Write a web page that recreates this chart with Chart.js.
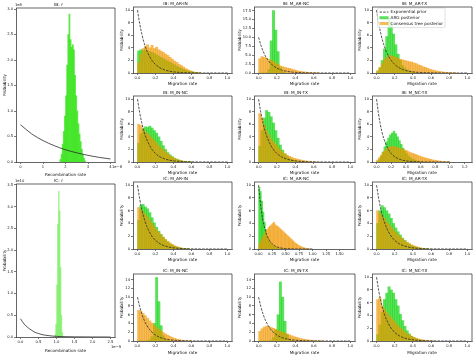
<!DOCTYPE html>
<html><head><meta charset="utf-8">
<script src="https://cdn.jsdelivr.net/npm/chart.js@4.4.0/dist/chart.umd.min.js"></script>
<style>
html,body{margin:0;padding:0;background:#fff;}
body{width:474px;height:355px;overflow:hidden;position:relative;}
canvas{position:absolute;}
</style></head>
<body>
<script>
// ---------------- DATA ----------------
const migBins = [0.0125,0.0375,0.0625,0.0875,0.1125,0.1375,0.1625,0.1875,0.2125,0.2375,0.2625,0.2875,0.3125,0.3375,0.3625,0.3875,0.4125,0.4375,0.4625,0.4875,0.5125,0.5375,0.5625,0.5875,0.6125,0.6375,0.6625,0.6875,0.7125,0.7375,0.7625,0.7875,0.8125,0.8375,0.8625,0.8875,0.9125,0.9375,0.9625,0.9875];
const migPriorX = [0,0.025,0.05,0.075,0.1,0.15,0.2,0.25,0.3,0.35,0.4,0.5,0.6,0.7,0.8,0.9,1.0];
const migPriorY = [10,7.8,6.07,4.72,3.68,2.23,1.35,0.82,0.5,0.3,0.18,0.067,0.025,0.009,0.003,0.001,0.0005];

const ibRecombBins = [1.775,1.825,1.875,1.925,1.975,2.025,2.075,2.125,2.175,2.225,2.275,2.325,2.375,2.425,2.475,2.525,2.575,2.625,2.675,2.725,2.775,2.825,2.875];
const ibRecombArg = [0.05,0.15,0.35,0.6,0.9,1.3,1.9,2.5,2.9,2.4,2.25,2.3,2.2,1.7,1.3,1.0,0.75,0.55,0.4,0.25,0.15,0.07,0.02];
const ibRecombPriorX = [0,0.5,1,1.5,2,2.5,3,3.5,4];
const ibRecombPriorY = [0.73,0.55,0.42,0.32,0.24,0.18,0.13,0.09,0.06];

const icRecombBins = [0.9625,0.9875,1.0125,1.0375,1.0625,1.0875,1.1125,1.1375,1.1625];
const icRecombArg = [0.05,0.3,1.2,2.6,3.35,2.9,1.6,0.5,0.1];
const icRecombPriorX = [0,0.1,0.2,0.3,0.4,0.5,0.6,0.7,0.8,0.9,1.0,1.1,1.5,2.0,2.5];
const icRecombPriorY = [0.42,0.3,0.22,0.16,0.11,0.08,0.055,0.04,0.03,0.02,0.015,0.01,0.004,0.001,0];

const ibArInArg  = [3.5,3.7,3.6,3.7,3.5,3.4,3.3,3.1,2.9,2.7,2.5,2.3,2.1,1.9,1.7,1.5,1.3,1.1,0.9,0.75,0.6,0.45,0.35,0.25,0.17,0.1,0.06,0.03];
const ibArInCons = [1.6,3.0,3.9,4.2,4.5,4.0,4.4,3.9,4.1,3.7,3.5,3.3,3.0,2.8,2.5,2.2,1.9,1.7,1.4,1.2,0.95,0.7,0.5,0.35,0.22,0.13,0.07,0.03];
const ibArNcArg  = [0,0,0,0.1,1.0,9.0,17.5,12.0,6.0,1.5,0.4,0.1];
const ibArNcCons = [4.0,4.6,4.4,4.2,3.8,3.5,3.2,2.8,2.4,2.0,1.8,1.6,1.4,1.3,1.1,0.9,0.7,0.55,0.45,0.35,0.25,0.18,0.12,0.08,0.05,0.03];
const ibArTxArg  = [0.2,0.8,2.0,3.8,5.8,8.7,7.6,6.2,4.5,3.0,2.0,1.2,0.8,0.5,0.3,0.2,0.1,0.05];
const ibArTxCons = [0.4,0.9,1.5,2.1,2.5,2.8,2.7,2.6,2.5,2.3,2.2,2.1,2.0,1.9,1.8,1.75,1.6,1.5,1.3,1.2,1.0,0.9,0.75,0.6,0.5,0.4,0.33,0.27,0.2,0.15,0.12,0.09,0.06,0.04,0.02];
const ibInNcArg  = [3.0,4.5,5.3,5.6,5.5,5.7,5.4,5.0,4.6,4.0,3.3,2.6,2.0,1.5,1.15,0.85,0.62,0.45,0.3,0.2,0.12,0.06,0.03,0.01];
const ibInNcCons = [6.0,5.8,5.2,4.8,4.5,4.2,3.8,3.4,3.0,2.6,2.2,1.9,1.6,1.3,1.0,0.8,0.6,0.45,0.3,0.2,0.12,0.07,0.03,0.01];
const ibInTxArg  = [2.5,5.0,7.0,8.2,7.9,7.2,6.2,5.0,3.8,2.7,1.9,1.3,0.9,0.6,0.4,0.25,0.15,0.08,0.04,0.02];
const ibInTxCons = [7.7,7.0,5.8,5.0,4.3,3.7,3.2,2.8,2.3,1.9,1.6,1.3,1.1,0.9,0.75,0.6,0.5,0.4,0.32,0.25,0.18,0.12,0.08,0.05,0.03];
const ibNcTxArg  = [0.1,0.4,0.9,1.6,2.4,3.2,3.8,4.3,4.6,4.9,4.5,4.0,3.4,2.8,2.2,1.7,1.3,0.95,0.7,0.5,0.35,0.25,0.15,0.1,0.05];
const ibNcTxCons = [0.3,0.7,1.1,1.5,1.8,2.1,2.3,2.4,2.5,2.4,2.4,2.3,2.2,2.1,2.0,1.9,1.8,1.65,1.5,1.4,1.3,1.2,1.05,0.95,0.85,0.75,0.65,0.57,0.5,0.42,0.35,0.29,0.23,0.18,0.14,0.11,0.08,0.06,0.04,0.03];
const icArInArg  = [4.5,6.8,7.0,6.6,6.3,5.7,4.9,4.1,3.4,2.8,2.3,1.85,1.45,1.1,0.82,0.6,0.43,0.3,0.2,0.12,0.06,0.03,0.01];
const icArInCons = [6.5,6.2,5.8,5.4,5.0,4.5,4.0,3.5,3.0,2.6,2.2,1.85,1.5,1.2,0.95,0.72,0.52,0.37,0.26,0.17,0.1,0.05,0.02];
const icArNcArg  = [9.7,9.0,7.5,5.8,4.2,3.0,2.1,1.5,1.1,0.8,0.6,0.45,0.35,0.25,0.18,0.12,0.08,0.05,0.03,0.02];
const icArNcCons = [0.8,1.2,1.6,2.0,2.4,2.8,3.1,3.4,3.6,3.8,4.0,4.2,3.8,3.6,3.5,3.3,3.1,2.9,2.7,2.5,2.3,2.1,1.9,1.7,1.5,1.3,1.1,0.9,0.75,0.6,0.48,0.38,0.28,0.2,0.14,0.09,0.05,0.03];
const icArTxArg  = [4.0,6.0,6.8,6.5,6.0,5.5,4.8,4.0,3.3,2.7,2.2,1.7,1.35,1.0,0.75,0.55,0.4,0.28,0.18,0.11,0.06,0.03,0.01];
const icArTxCons = [6.0,5.6,5.2,4.8,4.3,3.9,3.4,3.0,2.6,2.2,1.9,1.6,1.3,1.05,0.85,0.65,0.5,0.37,0.27,0.18,0.11,0.06,0.03];
const icInNcArg  = [0,0,0,0,0.1,0.3,1.0,4.0,14.5,9.0,3.5,1.2,0.4,0.15,0.05];
const icInNcCons = [7.0,6.8,6.3,5.8,5.2,4.6,4.1,3.6,3.1,2.7,2.3,1.95,1.6,1.3,1.05,0.8,0.6,0.45,0.32,0.22,0.14,0.08,0.04,0.02];
const icInTxArg  = [0,0,0,0,0,0.2,0.8,2.5,6.0,13.5,10.0,4.5,1.5,0.5,0.15,0.05];
const icInTxCons = [2.2,2.8,3.2,3.4,3.3,3.1,2.9,2.7,2.4,2.2,2.0,1.8,1.6,1.4,1.2,1.0,0.85,0.7,0.55,0.45,0.35,0.27,0.2,0.14,0.1,0.06,0.04,0.02];
const icNcTxArg  = [1.0,2.5,4.5,6.5,7.5,8.5,8.0,7.5,6.5,5.5,4.2,3.2,2.3,1.6,1.1,0.75,0.5,0.3,0.18,0.1,0.05];
const icNcTxCons = [6.5,6.8,5.5,5.0,4.5,4.0,3.6,3.2,2.8,2.4,2.0,1.7,1.4,1.15,0.95,0.75,0.58,0.44,0.33,0.24,0.17,0.12,0.08,0.05,0.03];

// tick values and labels
const migXTicks = [0,0.2,0.4,0.6,0.8,1.0];
const migXLabels = ['0.0','0.2','0.4','0.6','0.8','1.0'];
const ncTxXTicks = [0,0.2,0.4,0.6,0.8,1.0,1.2];
const ncTxXLabels = ['0.0','0.2','0.4','0.6','0.8','1.0','1.2'];
const arNcXTicks = [0,0.25,0.5,0.75,1.0,1.25,1.5];
const arNcXLabels = ['0.00','0.25','0.50','0.75','1.00','1.25','1.50'];
const y10Ticks = [0,2,4,6,8,10];
const y10Labels = ['0','2','4','6','8','10'];
const y17Ticks = [0,2.5,5,7.5,10,12.5,15,17.5];
const y17Labels = ['0.0','2.5','5.0','7.5','10.0','12.5','15.0','17.5'];
const y14Ticks = [0,2,4,6,8,10,12,14];
const y14Labels = ['0','2','4','6','8','10','12','14'];
const ibRXTicks = [0,1,2,3,4];
const ibRXLabels = ['0','1','2','3','4'];
const ibRYTicks = [0,0.5,1,1.5,2,2.5,3];
const ibRYLabels = ['0.0','0.5','1.0','1.5','2.0','2.5','3.0'];
const icRXTicks = [0,0.5,1,1.5,2,2.5];
const icRXLabels = ['0.0','0.5','1.0','1.5','2.0','2.5'];
const icRYTicks = [0,0.5,1,1.5,2,2.5,3,3.5];
const icRYLabels = ['0.0','0.5','1.0','1.5','2.0','2.5','3.0','3.5'];

const legendLabels = ['Exponential prior','ARG posterior','Consensus tree posterior'];

// ---------------- STYLE / LAYOUT ----------------
const FONT = "'DejaVu Sans', sans-serif";
const GREEN = 'rgba(0,210,0,0.65)';
const ORANGE = 'rgba(240,150,0,0.65)';
const PRIOR = 'rgba(45,45,45,0.9)';
const TITLE_H = 7;
Chart.defaults.font.family = FONT;
Chart.defaults.color = '#111';

const COLS = {
  L:  {canvasLeft: 2,   plotLeft: 16,  plotRight: 115, padR: 10},
  c2: {canvasLeft: 119, plotLeft: 133, plotRight: 232, padR: 2},
  c3: {canvasLeft: 237, plotLeft: 254, plotRight: 355, padR: 2},
  c4: {canvasLeft: 357, plotLeft: 372, plotRight: 472, padR: 2}
};
const ROWS = [
  {top: 7,   bottom: 73,  xh: 13},
  {top: 96,  bottom: 162, xh: 13},
  {top: 182, bottom: 249, xh: 13},
  {top: 274, bottom: 341, xh: 14}
];

function barSet(xs, ys, color, label, order) {
  return {type:'bar', label, data: ys.map((y,i)=>({x: xs[i], y})), backgroundColor: color,
    borderWidth: 0, barPercentage: 1, categoryPercentage: 1, grouped: false, order};
}
function priorSet(xs, ys, dash) {
  return {type:'line', label: legendLabels[0], data: xs.map((x,i)=>({x, y: ys[i]})),
    borderColor: PRIOR, backgroundColor: PRIOR, borderWidth: 0.9, borderDash: dash,
    pointRadius: 0, pointHoverRadius: 0, cubicInterpolationMode: 'monotone', fill: false, order: 0};
}

const framePlugin = {
  id: 'frame',
  afterDraw(chart) {
    const {ctx, chartArea: a} = chart;
    ctx.save();
    ctx.strokeStyle = '#222'; ctx.lineWidth = 0.7;
    ctx.beginPath(); ctx.moveTo(a.left, a.top); ctx.lineTo(a.right, a.top); ctx.lineTo(a.right, a.bottom);
    ctx.stroke(); ctx.restore();
  }
};

function makePanel(p) {
  const col = COLS[p.col];
  const left = col.canvasLeft;
  const top = p.top - TITLE_H;
  const width = col.plotRight + col.padR - left;
  const height = p.bottom + p.xh - top;
  const cv = document.createElement('canvas');
  cv.width = width; cv.height = height;
  Object.assign(cv.style, {left: left + 'px', top: top + 'px', width: width + 'px', height: height + 'px'});
  document.body.appendChild(cv);
  const yw = col.plotLeft - left;

  const notesPlugin = {
    id: 'notes',
    afterDraw(chart) {
      const {ctx, chartArea: a} = chart;
      (p.notes || []).forEach(n => {
        ctx.save();
        ctx.font = '3.7px ' + FONT; ctx.fillStyle = '#111';
        ctx.textAlign = 'left'; ctx.textBaseline = 'middle';
        const x = n.anchor === 'tl' ? a.left + n.dx : a.right + n.dx;
        const y = n.anchor === 'tl' ? a.top + n.dy : a.bottom + n.dy;
        ctx.fillText(n.text, x, y);
        ctx.restore();
      });
    }
  };
  const legendPlugin = {
    id: 'legendPlace',
    afterLayout(chart) {
      if (!p.legend || !chart.legend) return;
      const lg = chart.legend;
      lg.left = chart.chartArea.left + 6;
      lg.top = chart.chartArea.top + 1.5;
      if (!lg._origDraw) { lg._origDraw = lg.draw; lg.draw = function () {}; }
    },
    afterDatasetsDraw(chart) {
      if (!p.legend || !chart.legend || !chart.legend.columnSizes) return;
      const lg = chart.legend, pad = 1.5, cs = lg.columnSizes[0];
      const ctx = chart.ctx;
      const x = lg.left - 0.5, y = lg.top - 0.5, w = cs.width + 2 * pad + 1, h = cs.height + pad + 1;
      ctx.save();
      ctx.beginPath();
      if (ctx.roundRect) ctx.roundRect(x, y, w, h, 1.2); else ctx.rect(x, y, w, h);
      ctx.fillStyle = 'rgba(255,255,255,0.8)'; ctx.fill();
      ctx.strokeStyle = '#cfcfcf'; ctx.lineWidth = 0.6; ctx.stroke();
      ctx.restore();
      if (lg._origDraw) lg._origDraw.call(lg);
    }
  };

  const tickFont = {size: 3.7, lineHeight: '4px'};
  const labFont = {size: 4.2, lineHeight: '5px'};
  const gridOpt = {display: true, drawOnChartArea: false, drawTicks: true, tickLength: 2, color: '#222', lineWidth: 0.6, offset: false};
  const borderOpt = {display: true, color: '#222', width: 0.7};

  new Chart(cv, {
    type: 'bar',
    data: {datasets: p.datasets},
    options: {
      responsive: false, animation: false, devicePixelRatio: 1,
      events: [],
      layout: {padding: {left: 0, top: 0, right: col.padR, bottom: 0}},
      plugins: {
        title: {display: true, text: p.title, color: '#111', font: {size: 4.3, lineHeight: '5px', weight: 'normal'}, padding: {top: 1, bottom: 1}},
        tooltip: {enabled: false},
        legend: p.legend ? {
          display: true, position: 'chartArea', align: 'start',
          labels: {
            usePointStyle: true, pointStyleWidth: 9, boxWidth: 9, boxHeight: 3, padding: 1.5,
            textAlign: 'left', color: '#111', font: {size: 4.2, lineHeight: '4px'},
            sort: (a, b) => a.datasetIndex - b.datasetIndex,
            generateLabels: (chart) => {
              const items = Chart.defaults.plugins.legend.labels.generateLabels(chart);
              items.forEach(it => {
                const ds = chart.data.datasets[it.datasetIndex];
                it.text = legendLabels[it.datasetIndex];
                if (ds.type === 'line') {
                  it.pointStyle = 'line'; it.strokeStyle = ds.borderColor; it.lineWidth = 0.9; it.lineDash = ds.borderDash;
                } else {
                  it.pointStyle = 'rect'; it.fillStyle = ds.backgroundColor; it.lineWidth = 0; it.strokeStyle = 'rgba(0,0,0,0)';
                }
              });
              return items;
            }
          }
        } : {display: false}
      },
      scales: {
        x: {
          type: 'linear', min: p.xMin, max: p.xMax, offset: false,
          afterFit: s => { s.height = p.xh; },
          afterBuildTicks: s => { s.ticks = p.xTicks.map(v => ({value: v})); },
          ticks: {autoSkip: false, maxRotation: 0, minRotation: 0, padding: 1, font: tickFont, color: '#111',
            callback: (v, i) => p.xLabels[i]},
          grid: gridOpt, border: borderOpt,
          title: {display: true, text: p.xTitle, padding: 0, font: labFont, color: '#111'}
        },
        y: {
          type: 'linear', min: 0, max: p.yMax,
          afterFit: s => { s.width = yw; },
          afterBuildTicks: s => { s.ticks = p.yTicks.map(v => ({value: v})); },
          ticks: {autoSkip: false, padding: 1, font: tickFont, color: '#111', callback: (v, i) => p.yLabels[i]},
          grid: gridOpt, border: borderOpt,
          title: {display: true, text: 'Probability', padding: 0, font: labFont, color: '#111'}
        }
      }
    },
    plugins: [framePlugin, notesPlugin, legendPlugin]
  });
}

const DASH = [2.5, 1.2];
function migPanel(col, row, title, arg, cons, extra) {
  const r = ROWS[row];
  return Object.assign({
    col, top: r.top, bottom: r.bottom, xh: r.xh, title, xTitle: 'Migration rate',
    xMin: -0.05, xMax: 1.05, xTicks: migXTicks, xLabels: migXLabels,
    yMax: 10.5, yTicks: y10Ticks, yLabels: y10Labels,
    datasets: [
      priorSet(migPriorX, migPriorY, DASH),
      barSet(migBins, arg, GREEN, legendLabels[1], 2),
      barSet(migBins, cons, ORANGE, legendLabels[2], 1)
    ]
  }, extra || {});
}

const panels = [
  {col: 'L', top: 8, bottom: 162, xh: 15, title: 'IB: r', xTitle: 'Recombination rate',
   xMin: -0.2, xMax: 4.2, xTicks: ibRXTicks, xLabels: ibRXLabels,
   yMax: 3.02, yTicks: ibRYTicks, yLabels: ibRYLabels,
   notes: [{text: '1e8', anchor: 'tl', dx: -1, dy: -3}, {text: '1e\u22128', anchor: 'br', dx: -3, dy: 5.5}],
   datasets: [priorSet(ibRecombPriorX, ibRecombPriorY, []), barSet(ibRecombBins, ibRecombArg, 'rgba(40,225,10,0.75)', legendLabels[1], 2)]},
  {col: 'L', top: 184, bottom: 337, xh: 16, title: 'IC: r', xTitle: 'Recombination rate',
   xMin: -0.125, xMax: 2.625, xTicks: icRXTicks, xLabels: icRXLabels,
   yMax: 3.52, yTicks: icRYTicks, yLabels: icRYLabels,
   notes: [{text: '1e10', anchor: 'tl', dx: -1, dy: -2.5}, {text: '1e\u22129', anchor: 'br', dx: -4, dy: 10}],
   datasets: [priorSet(icRecombPriorX, icRecombPriorY, []), barSet(icRecombBins, icRecombArg, 'rgba(90,235,60,0.55)', legendLabels[1], 2)]},
  migPanel('c2', 0, 'IB: M_AR-IN', ibArInArg, ibArInCons),
  migPanel('c3', 0, 'IB: M_AR-NC', ibArNcArg, ibArNcCons, {yMax: 18.5, yTicks: y17Ticks, yLabels: y17Labels}),
  migPanel('c4', 0, 'IB: M_AR-TX', ibArTxArg, ibArTxCons, {legend: true}),
  migPanel('c2', 1, 'IB: M_IN-NC', ibInNcArg, ibInNcCons),
  migPanel('c3', 1, 'IB: M_IN-TX', ibInTxArg, ibInTxCons),
  migPanel('c4', 1, 'IB: M_NC-TX', ibNcTxArg, ibNcTxCons, {xMin: -0.062, xMax: 1.3, xTicks: ncTxXTicks, xLabels: ncTxXLabels}),
  migPanel('c2', 2, 'IC: M_AR-IN', icArInArg, icArInCons),
  migPanel('c3', 2, 'IC: M_AR-NC', icArNcArg, icArNcCons, {xMin: -0.085, xMax: 1.785, xTicks: arNcXTicks, xLabels: arNcXLabels}),
  migPanel('c4', 2, 'IC: M_AR-TX', icArTxArg, icArTxCons),
  migPanel('c2', 3, 'IC: M_IN-NC', icInNcArg, icInNcCons, {yMax: 15.3, yTicks: y14Ticks, yLabels: y14Labels}),
  migPanel('c3', 3, 'IC: M_IN-TX', icInTxArg, icInTxCons, {yMax: 15.3, yTicks: y14Ticks, yLabels: y14Labels}),
  migPanel('c4', 3, 'IC: M_NC-TX', icNcTxArg, icNcTxCons)
];
panels.forEach(makePanel);
</script>
</body></html>
